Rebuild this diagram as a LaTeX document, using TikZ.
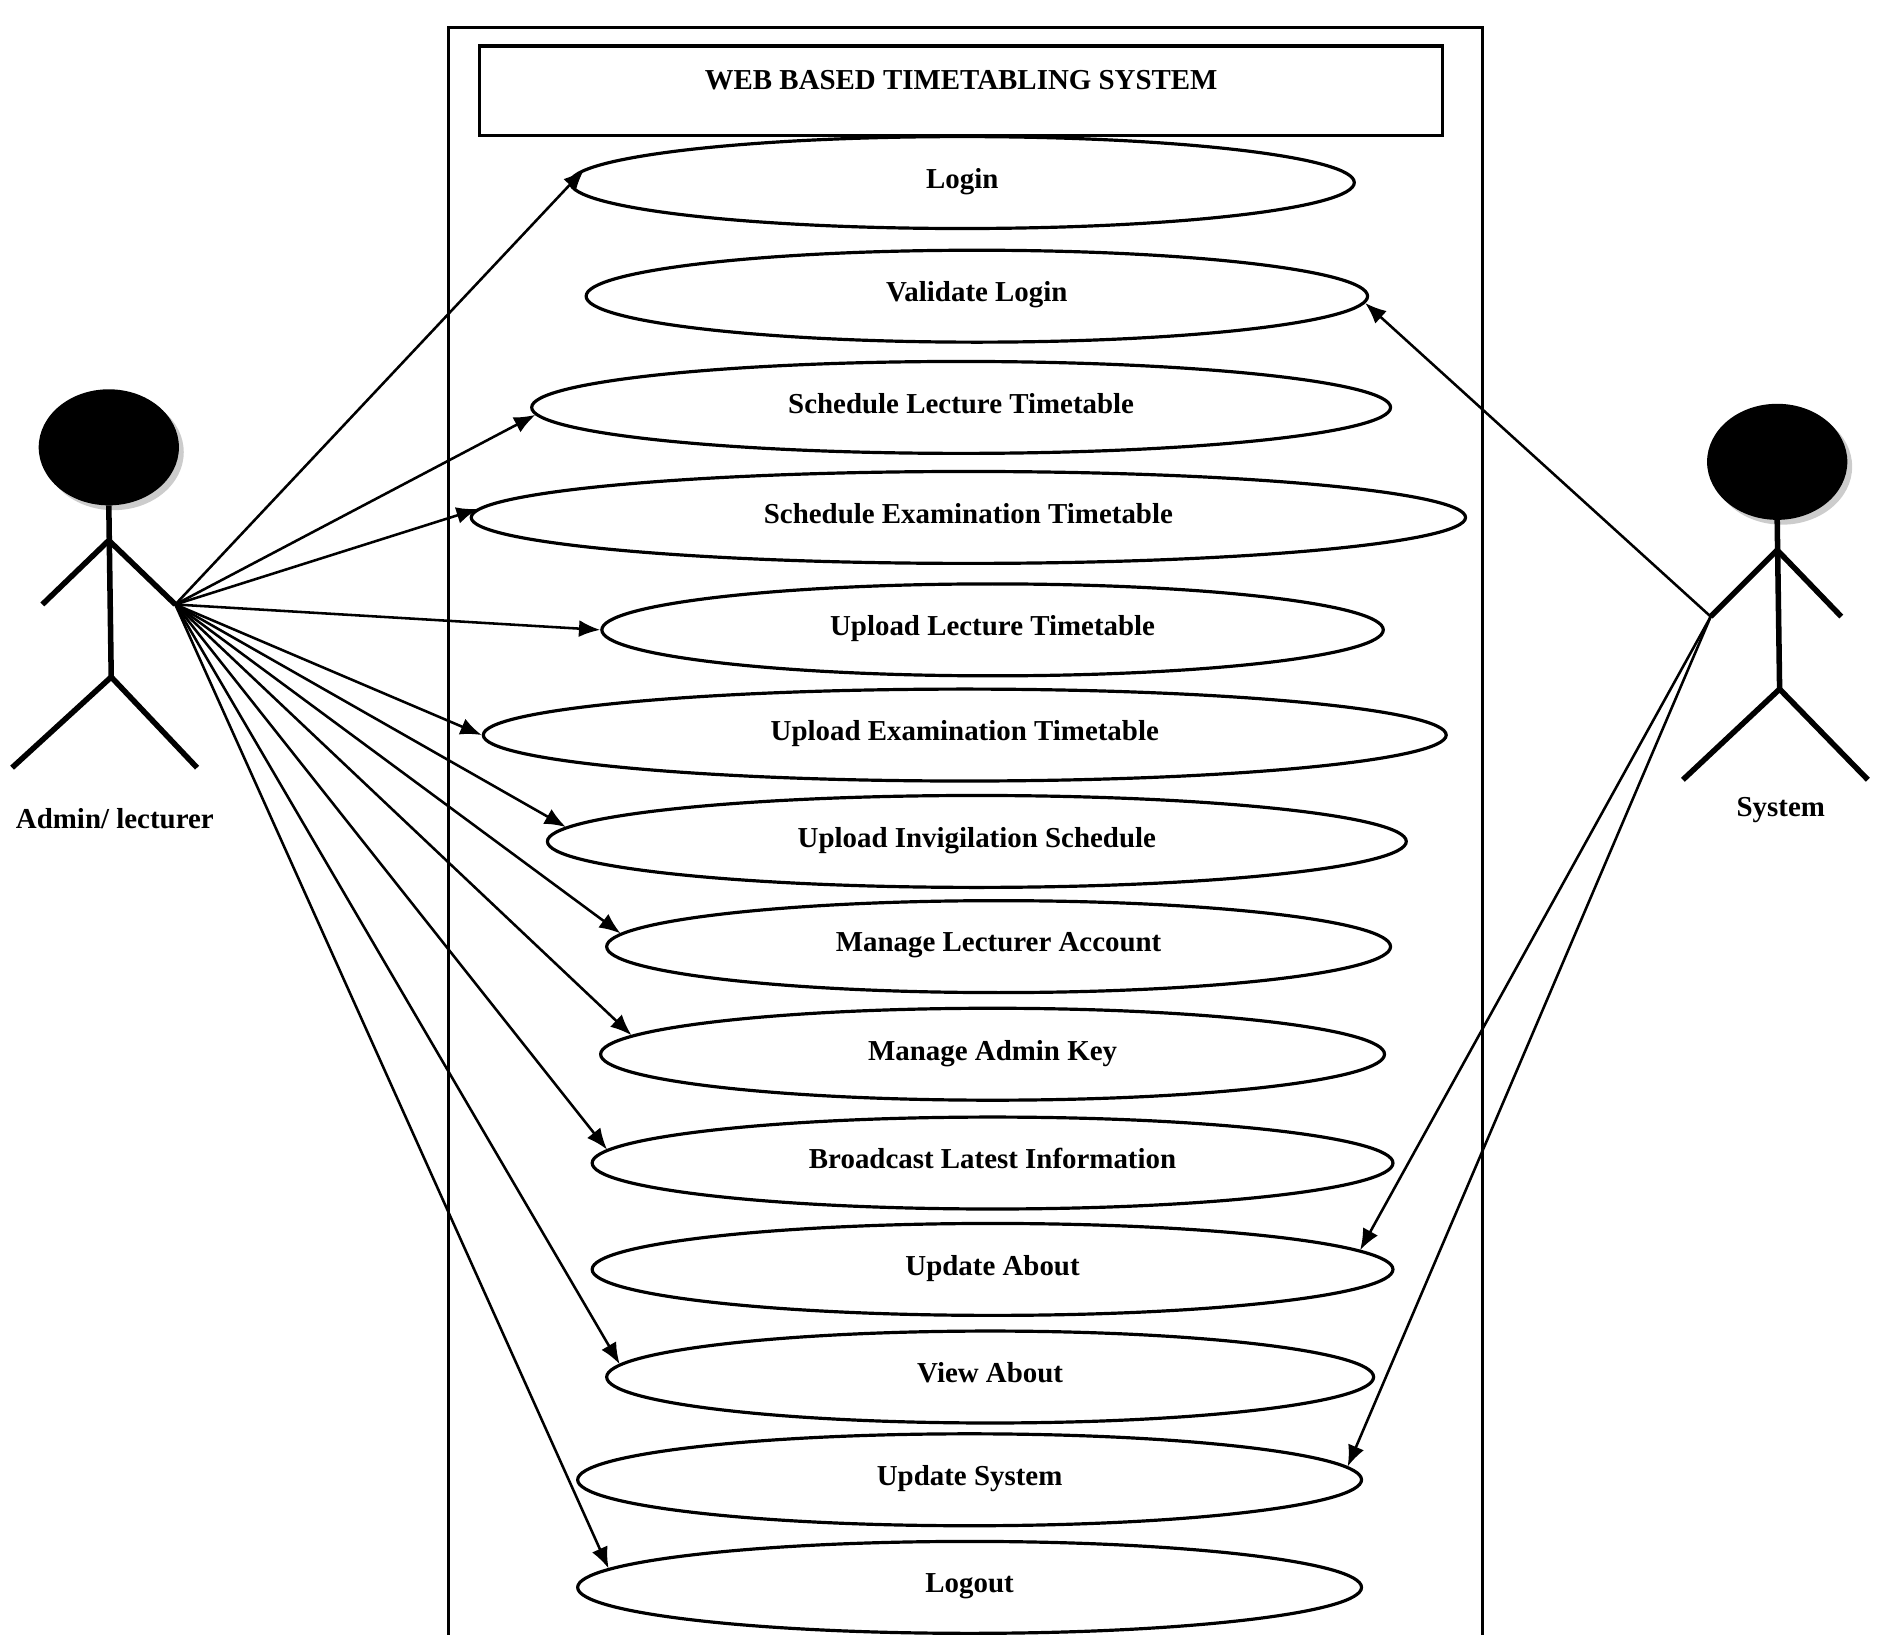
\documentclass[tikz,border=0pt]{standalone}
\usepackage{fontspec}
\setmainfont{Liberation Serif}
\usetikzlibrary{shapes.geometric,arrows.meta}
\begin{document}
\begin{tikzpicture}[x=0.01cm,y=-0.01cm,
  uc/.style={ellipse,draw,line width=0.75pt,inner sep=0pt,font=\fontsize{6.8}{8}\selectfont\bfseries},
  lnk/.style={line width=0.6pt,-{Latex[length=5pt,width=4pt]}},
  act/.style={line width=1.3pt},
  lbl/.style={font=\fontsize{6.8}{8}\selectfont\bfseries}]
\useasboundingbox (0,0) rectangle (1560,1352);
% system boundary
\draw[line width=0.75pt] (371,1360) -- (371,23) -- (1226,23) -- (1226,1360);
\node[draw,line width=0.75pt,minimum width=7.96cm,minimum height=0.74cm,inner sep=0pt,lbl] (title) at (795,75) {};
\node[lbl] (tt) at (795,66) {WEB BASED TIMETABLING SYSTEM};
% use cases
\newcommand{\uc}[5]{\node[uc,minimum width=#3cm,minimum height=0.76cm] (#1) at (#2) {\raisebox{2pt}{#5}};}
\uc{login}{796,151}{6.48}{}{Login}
\uc{valid}{808,245}{6.46}{}{Validate Login}
\uc{schl}{795,337}{7.10}{}{Schedule Lecture Timetable}
\uc{sche}{801,428}{8.22}{}{Schedule Examination Timetable}
\uc{upl}{821,521}{6.46}{}{Upload Lecture Timetable}
\uc{upe}{798,608}{7.96}{}{Upload Examination Timetable}
\uc{upi}{808,696}{7.10}{}{Upload Invigilation Schedule}
\uc{mla}{826,783}{6.48}{}{Manage Lecturer Account}
\uc{mak}{821,872}{6.48}{}{Manage Admin Key}
\uc{bli}{821,962}{6.62}{}{Broadcast Latest Information}
\uc{ua}{821,1050}{6.62}{}{Update About}
\uc{va}{819,1139}{6.34}{}{View About}
\uc{us}{802,1224}{6.48}{}{Update System}
\uc{lo}{802,1313}{6.48}{}{Logout}
% left actor
\fill[gray!40] (94,374) ellipse [x radius=58,y radius=48];
\fill (90,370) ellipse [x radius=58,y radius=48];
\draw[act] (90,418) -- (92,560);
\draw[act] (35,500) -- (90,447) -- (145,500);
\draw[act] (10,635) -- (92,560) -- (163,635);
\node[lbl] (alab) at (95,677) {Admin/ lecturer};
\coordinate (A) at (145,500);
% right actor
\fill[gray!40] (1474,386) ellipse [x radius=58,y radius=48];
\fill (1470,382) ellipse [x radius=58,y radius=48];
\draw[act] (1470,430) -- (1472,570);
\draw[act] (1415,510) -- (1470,455) -- (1523,510);
\draw[act] (1392,645) -- (1472,570) -- (1545,645);
\node[lbl] (slab) at (1473,670) {System};
\coordinate (S) at (1415,510);
% links
\draw[lnk] (A) -- (login.178);
\draw[lnk] (A) -- (schl.181);
\draw[lnk] (A) -- (sche.179);
\draw[lnk] (A) -- (upl.180);
\draw[lnk] (A) -- (upe.180);
\draw[lnk] (A) -- (upi.178);
\draw[lnk] (A) -- (mla.178);
\draw[lnk] (A) -- (mak.177);
\draw[lnk] (A) -- (bli.178);
\draw[lnk] (A) -- (va.178);
\draw[lnk] (A) -- (lo.177);
\draw[lnk] (S) -- (valid.359);
\draw[lnk] (S) -- (ua.3);
\draw[lnk] (S) -- (us.2);
\end{tikzpicture}
\end{document}
